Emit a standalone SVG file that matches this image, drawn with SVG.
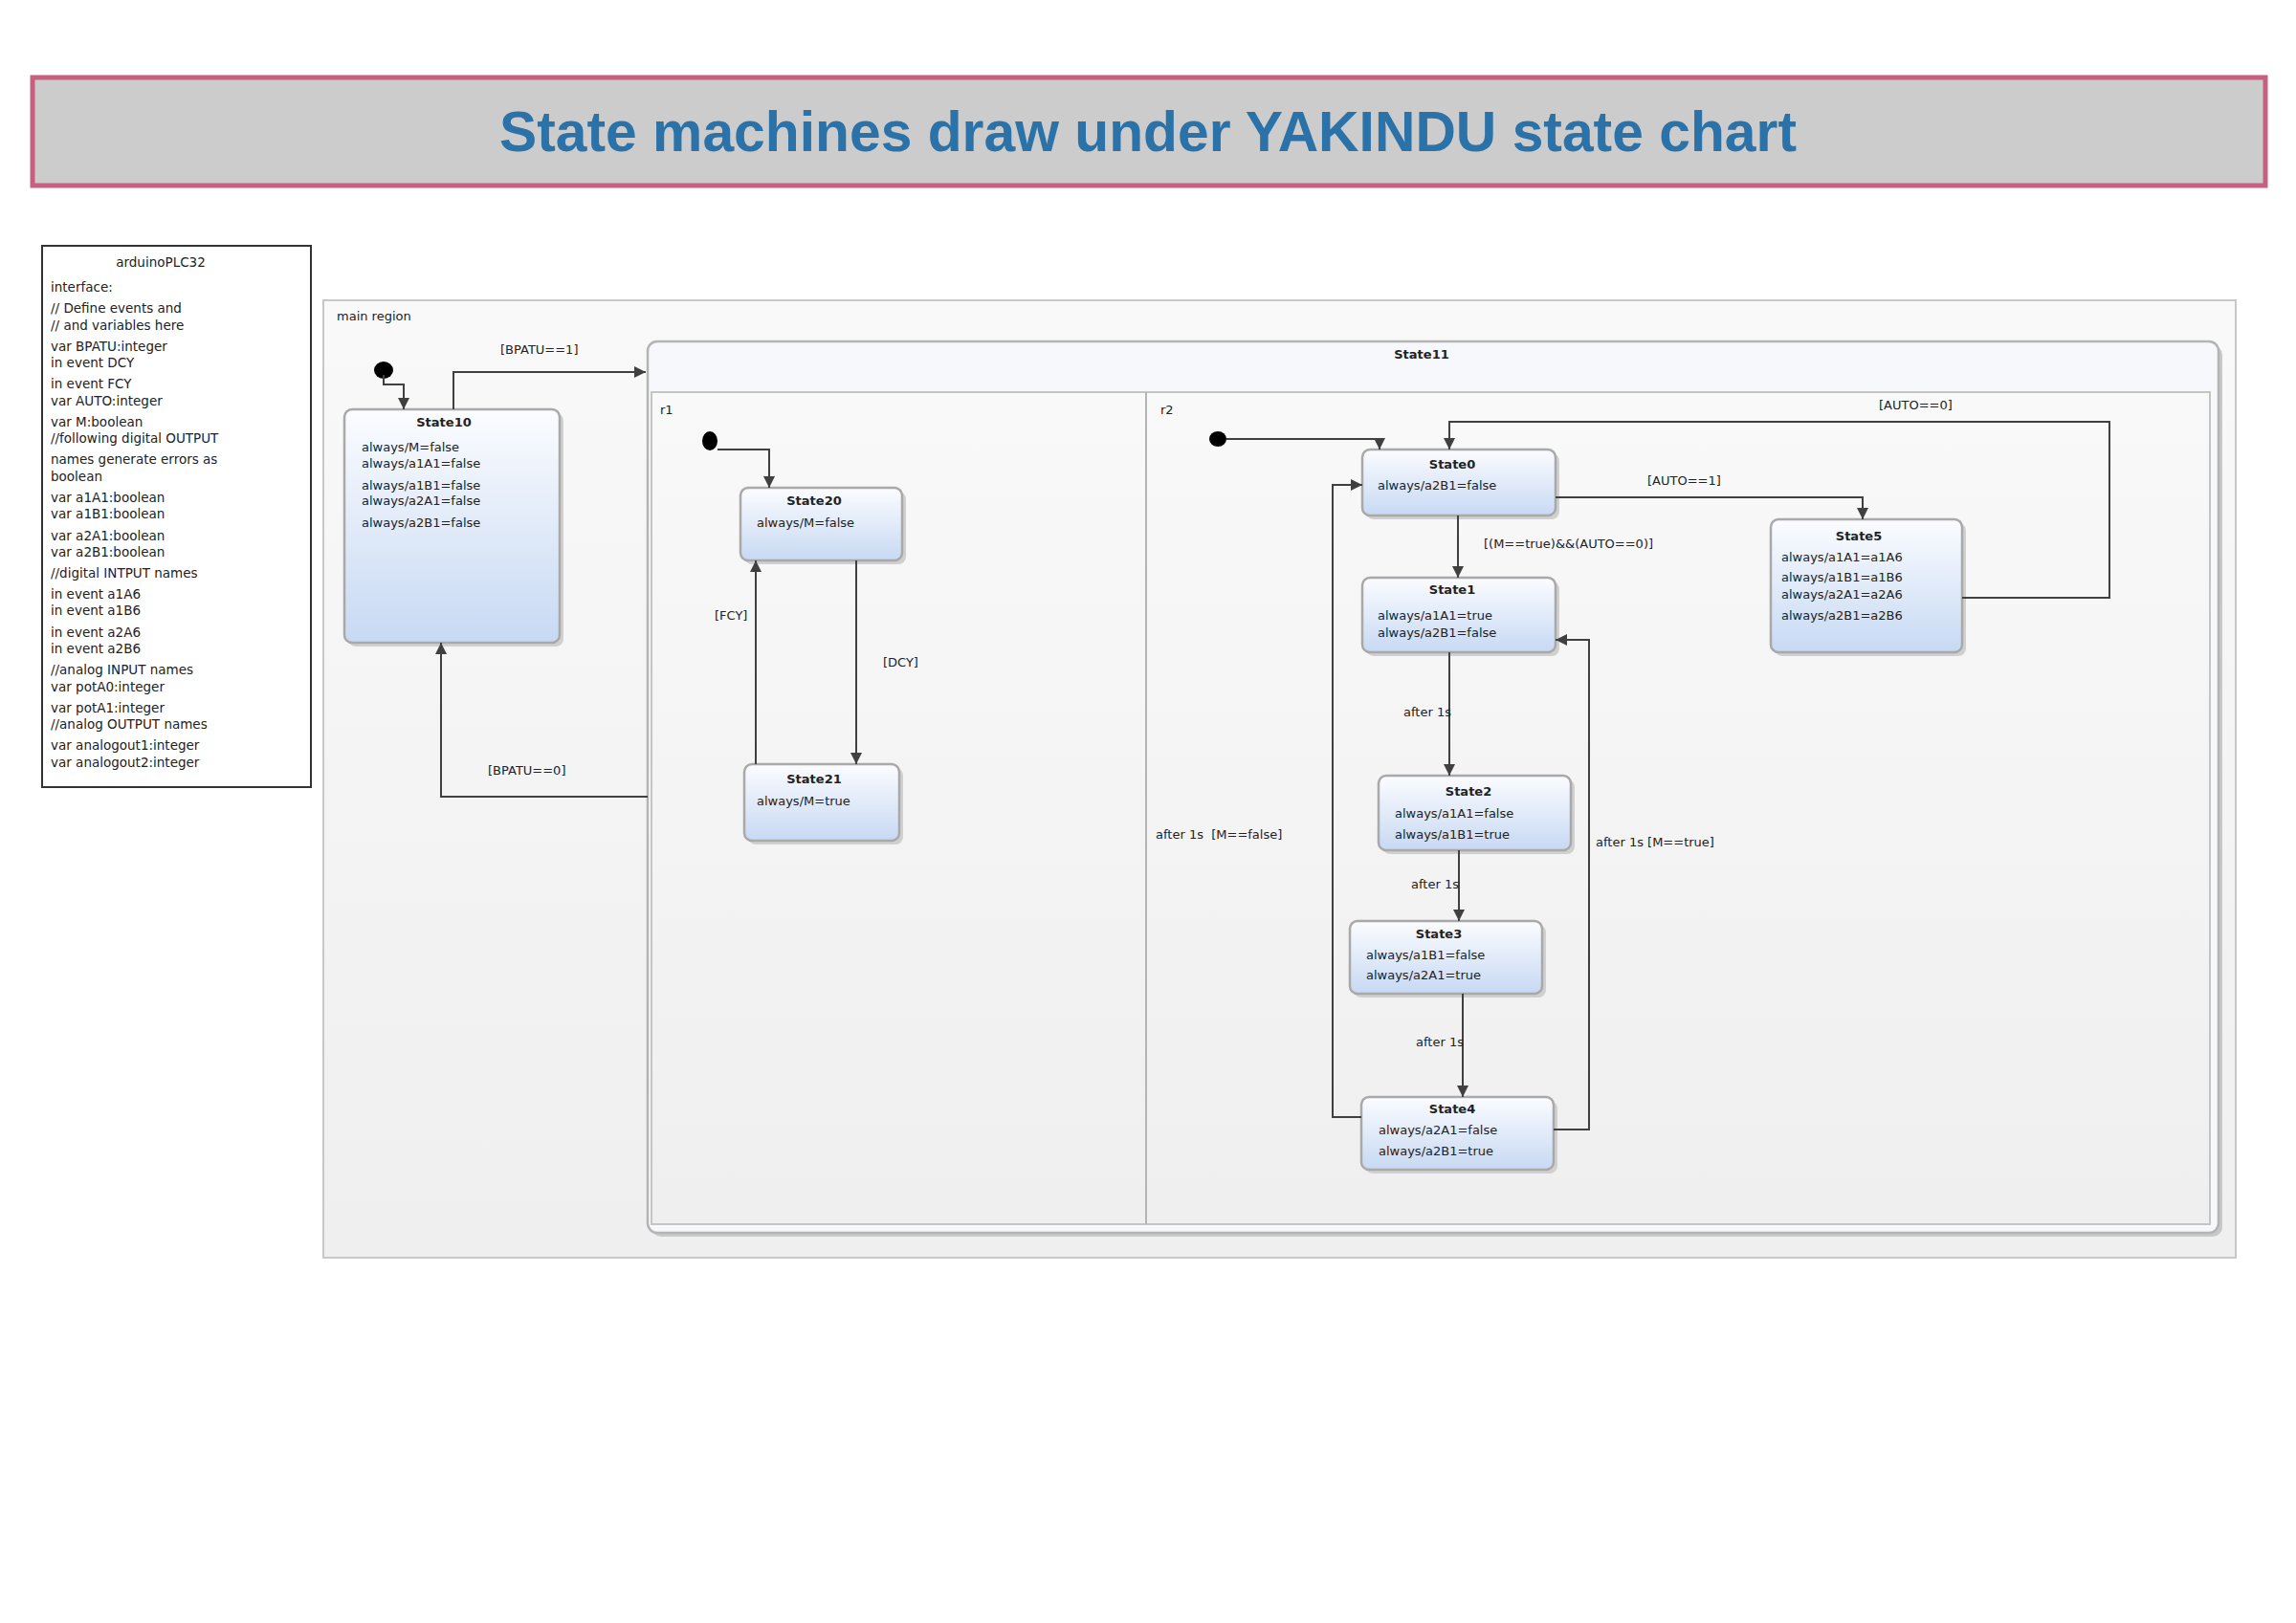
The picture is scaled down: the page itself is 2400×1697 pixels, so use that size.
<svg xmlns="http://www.w3.org/2000/svg" width="2400" height="1697" viewBox="0 0 2400 1697">
<defs>
<linearGradient id="sg" x1="0" y1="0" x2="0" y2="1"><stop offset="0" stop-color="#fbfcff"/><stop offset="1" stop-color="#c7d9f3"/></linearGradient>
<linearGradient id="rg" x1="0" y1="0" x2="0" y2="1"><stop offset="0" stop-color="#f9f9f9"/><stop offset="1" stop-color="#efefef"/></linearGradient>
<marker id="ar" viewBox="0 0 10 10" refX="10" refY="5" markerWidth="12" markerHeight="12" markerUnits="userSpaceOnUse" orient="auto"><path d="M0,0 L10,5 L0,10 z" fill="#404040"/></marker>
</defs>
<style>
text{font-family:"DejaVu Sans","Liberation Sans",sans-serif;font-size:13px;fill:#222}
.t{font-weight:bold;text-anchor:middle}
.st{fill:url(#sg);stroke:#a9a9a9;stroke-width:2.5}
.sh{fill:#d0d0d0}
.c{fill:none;stroke:#404040;stroke-width:2;marker-end:url(#ar)}
.cl{fill:none;stroke:#404040;stroke-width:2}
.if text{font-size:13.5px}
</style>
<rect width="2400" height="1697" fill="#fff"/>
<g id="titlebar">
<rect x="34" y="81" width="2334" height="113" fill="#cccccc" stroke="#c7607e" stroke-width="5"/>
<text x="1200" y="158" text-anchor="middle" style="font-family:'Liberation Sans',Arial,sans-serif;font-size:60px;font-weight:bold;fill:#2a72a8" textLength="1356" lengthAdjust="spacingAndGlyphs">State machines draw under YAKINDU state chart</text>
</g>
<g id="interface" class="if">
<rect x="44" y="257" width="281" height="566" fill="#fff" stroke="#333" stroke-width="2"/>
<text x="168" y="279" text-anchor="middle">arduinoPLC32</text>
<text x="53" y="305">interface:</text>
<text x="53" y="327">// Define events and</text>
<text x="53" y="345">// and variables here</text>
<text x="53" y="367">var BPATU:integer</text>
<text x="53" y="384">in event DCY</text>
<text x="53" y="406">in event FCY</text>
<text x="53" y="424">var AUTO:integer</text>
<text x="53" y="446">var M:boolean</text>
<text x="53" y="463">//following digital OUTPUT</text>
<text x="53" y="485">names generate errors as</text>
<text x="53" y="503">boolean</text>
<text x="53" y="525">var a1A1:boolean</text>
<text x="53" y="542">var a1B1:boolean</text>
<text x="53" y="565">var a2A1:boolean</text>
<text x="53" y="582">var a2B1:boolean</text>
<text x="53" y="604">//digital INTPUT names</text>
<text x="53" y="626">in event a1A6</text>
<text x="53" y="643">in event a1B6</text>
<text x="53" y="666">in event a2A6</text>
<text x="53" y="683">in event a2B6</text>
<text x="53" y="705">//analog INPUT names</text>
<text x="53" y="723">var potA0:integer</text>
<text x="53" y="745">var potA1:integer</text>
<text x="53" y="762">//analog OUTPUT names</text>
<text x="53" y="784">var analogout1:integer</text>
<text x="53" y="802">var analogout2:integer</text>
</g>
<g id="mainregion">
<rect x="338" y="314" width="1999" height="1001" fill="url(#rg)" stroke="#c8c8c8" stroke-width="2"/>
<text x="352" y="335">main region</text>
<ellipse cx="401" cy="387" rx="10" ry="9" fill="#000"/>
</g>
<g id="State10">
<rect x="364" y="432" width="225" height="244" rx="8" class="sh"/>
<rect x="360" y="428" width="225" height="244" rx="8" class="st"/>
<text x="464" y="446" class="t">State10</text>
<text x="378" y="472">always/M=false</text>
<text x="378" y="489">always/a1A1=false</text>
<text x="378" y="512">always/a1B1=false</text>
<text x="378" y="528">always/a2A1=false</text>
<text x="378" y="551">always/a2B1=false</text>
</g>
<g id="State11">
<rect x="681" y="361" width="1642" height="932" rx="10" fill="#c8c8c8"/>
<rect x="677" y="357" width="1642" height="932" rx="10" fill="#f6f8fb" stroke="#b4b4b4" stroke-width="2.5"/>
<text x="1486" y="375" class="t">State11</text>
<rect x="681" y="410" width="1629" height="870" fill="url(#rg)" stroke="#c4c4c4" stroke-width="2"/>
<line x1="1198" y1="410" x2="1198" y2="1280" stroke="#b4b4b4" stroke-width="2"/>
<text x="690" y="433">r1</text>
<text x="1213" y="433">r2</text>
<ellipse cx="742" cy="461" rx="8" ry="10" fill="#000"/>
<ellipse cx="1273" cy="459" rx="9" ry="8" fill="#000"/>
</g>
<g id="State20">
<rect x="778" y="514" width="169" height="76" rx="8" class="sh"/>
<rect x="774" y="510" width="169" height="76" rx="8" class="st"/>
<text x="851" y="528" class="t">State20</text>
<text x="791" y="551">always/M=false</text>
</g>
<g id="State21">
<rect x="782" y="803" width="162" height="80" rx="8" class="sh"/>
<rect x="778" y="799" width="162" height="80" rx="8" class="st"/>
<text x="851" y="819" class="t">State21</text>
<text x="791" y="842">always/M=true</text>
</g>
<g id="State0">
<rect x="1428" y="474" width="202" height="69" rx="8" class="sh"/>
<rect x="1424" y="470" width="202" height="69" rx="8" class="st"/>
<text x="1518" y="490" class="t">State0</text>
<text x="1440" y="512">always/a2B1=false</text>
</g>
<g id="State1">
<rect x="1428" y="608" width="202" height="78" rx="8" class="sh"/>
<rect x="1424" y="604" width="202" height="78" rx="8" class="st"/>
<text x="1518" y="621" class="t">State1</text>
<text x="1440" y="648">always/a1A1=true</text>
<text x="1440" y="666">always/a2B1=false</text>
</g>
<g id="State5">
<rect x="1855" y="547" width="200" height="139" rx="8" class="sh"/>
<rect x="1851" y="543" width="200" height="139" rx="8" class="st"/>
<text x="1943" y="565" class="t">State5</text>
<text x="1862" y="587">always/a1A1=a1A6</text>
<text x="1862" y="608">always/a1B1=a1B6</text>
<text x="1862" y="626">always/a2A1=a2A6</text>
<text x="1862" y="648">always/a2B1=a2B6</text>
</g>
<g id="State2">
<rect x="1445" y="815" width="201" height="78" rx="8" class="sh"/>
<rect x="1441" y="811" width="201" height="78" rx="8" class="st"/>
<text x="1535" y="832" class="t">State2</text>
<text x="1458" y="855">always/a1A1=false</text>
<text x="1458" y="877">always/a1B1=true</text>
</g>
<g id="State3">
<rect x="1415" y="967" width="201" height="76" rx="8" class="sh"/>
<rect x="1411" y="963" width="201" height="76" rx="8" class="st"/>
<text x="1504" y="981" class="t">State3</text>
<text x="1428" y="1003">always/a1B1=false</text>
<text x="1428" y="1024">always/a2A1=true</text>
</g>
<g id="State4">
<rect x="1427" y="1151" width="201" height="76" rx="8" class="sh"/>
<rect x="1423" y="1147" width="201" height="76" rx="8" class="st"/>
<text x="1518" y="1164" class="t">State4</text>
<text x="1441" y="1186">always/a2A1=false</text>
<text x="1441" y="1208">always/a2B1=true</text>
</g>
<g id="connectors">
<path class="c" d="M401,392 V402 H422 V428"/>
<path class="c" d="M474,428 V389 H675"/>
<text x="523" y="370">[BPATU==1]</text>
<path class="c" d="M677,833 H461 V672"/>
<text x="510" y="810">[BPATU==0]</text>
<path class="c" d="M750,470 H804 V510"/>
<path class="c" d="M895,586 V799"/>
<text x="923" y="697">[DCY]</text>
<path class="c" d="M790,799 V586"/>
<text x="747" y="648">[FCY]</text>
<path class="c" d="M1282,459 H1442 V470"/>
<path class="c" d="M2051,625 H2205 V441 H1515 V470"/>
<text x="1964" y="428">[AUTO==0]</text>
<path class="c" d="M1626,520 H1947 V543"/>
<text x="1722" y="507">[AUTO==1]</text>
<path class="c" d="M1524,539 V604"/>
<text x="1551" y="573">[(M==true)&amp;&amp;(AUTO==0)]</text>
<path class="c" d="M1515,682 V811"/>
<text x="1467" y="749">after 1s</text>
<path class="c" d="M1525,889 V963"/>
<text x="1475" y="929">after 1s</text>
<path class="c" d="M1529,1039 V1147"/>
<text x="1480" y="1094">after 1s</text>
<path class="c" d="M1423,1168 H1393 V507 H1424"/>
<text x="1208" y="877">after 1s&#160; [M==false]</text>
<path class="c" d="M1624,1181 H1661 V669 H1626"/>
<text x="1668" y="885">after 1s [M==true]</text>
</g>
</svg>
